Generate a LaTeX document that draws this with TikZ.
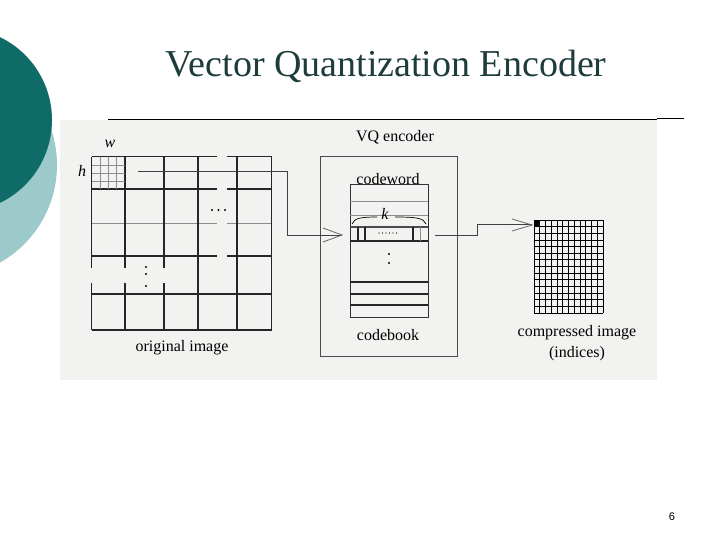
\documentclass[tikz,border=0pt]{standalone}
\usepackage{fontspec}
\setmainfont{Liberation Serif}
\setsansfont{Liberation Sans}
\definecolor{teal1}{HTML}{0E6B68}
\definecolor{teal2}{HTML}{9CCACB}
\definecolor{ttl}{HTML}{1E3C3C}
\definecolor{scan}{HTML}{F2F2F0}
\begin{document}
\begin{tikzpicture}[x=1pt,y=-1pt,
  lbl/.style={font=\fontsize{16}{17}\selectfont,inner sep=0pt},
  gl/.style={line width=1.1pt,black!85},
  thin/.style={line width=0.7pt,black!45},
  tip/.style={line width=0.8pt,black!60}]
\useasboundingbox (0,0) rectangle (720,540);
\fill[white] (0,0) rectangle (720,540);
\begin{scope}
\clip (0,0) rectangle (720,540);
\fill[teal2] (-55,165) circle (112);
\fill[teal1] (-40,120) circle (92);
\end{scope}
\node[font=\fontsize{38}{42}\selectfont,text=ttl,inner sep=0pt] (title) at (386,66) {Vector Quantization Encoder};
\draw[line width=0.7pt] (108,119) -- (657,119);
\draw[line width=1.4pt] (657,118.5) -- (684,118.5);
\fill[scan] (60,120) rectangle (657,380);
% original image grid
\draw[gl] (91.7,156.7) -- (217,156.7) (227,156.7) -- (271.7,156.7);
\draw[gl] (91.7,189) -- (217,189) (227,189) -- (271.7,189);
\draw[thin] (91.7,223) -- (217,223) (227,223) -- (271.7,223);
\draw[gl] (91.7,256) -- (217,256) (227,256) -- (271.7,256);
\draw[gl] (91.7,294) -- (271.7,294);
\draw[gl] (91.7,330) -- (271.7,330);
\draw[gl] (271.7,156.7) -- (271.7,330);
\draw[gl] (237,156.7) -- (237,330);
\draw[gl] (198,156.7) -- (198,330);
\foreach \x in {91.7,125,164}{
  \draw[gl] (\x,156.7) -- (\x,268) (\x,283) -- (\x,330);}
\foreach \x in {100,108.3,116.7}{\draw[thin] (\x,156.7) -- (\x,189);}
\foreach \y in {165,173,181.7}{\draw[thin] (91.7,\y) -- (125,\y);}
\node[lbl,font=\fontsize{16}{17}\selectfont\itshape] (w) at (110,144) {w};
\node[lbl,font=\fontsize{16}{17}\selectfont\itshape] (h) at (82,171) {h};
\foreach \x in {212,218.5,225}{\fill (\x,210) circle (1.2);}
\foreach \y in {267,274,286}{\fill (146,\y) circle (1.2);}
\node[lbl] (orig) at (182,348) {original image};
% VQ encoder
\node[lbl] (vqlbl) at (395,137) {VQ encoder};
\draw[line width=0.8pt,black!70] (320,156) rectangle (457,356);
\node[lbl] (cwl) at (388,179) {codeword};
\node[draw=black!80,line width=1pt,minimum width=78pt,minimum height=132pt,inner sep=0pt] (cb) at (389,251) {};
\draw[thin] (350,201) -- (428,201) (350,215) -- (428,215);
\draw[line width=1.4pt,black!70] (350,227) -- (428,227);
\foreach \y in {241,282,294,305}{\draw[gl] (350,\y) -- (428,\y);}
\draw[gl] (358,227) -- (358,241) (365,227) -- (365,241) (413,227) -- (413,241);
\draw[thin] (420,227) -- (420,241);
\foreach \x in {379,382.5,386,389.5,393,396.5}{\fill (\x,233) circle (0.7);}
\node[lbl,font=\fontsize{16}{17}\selectfont\itshape] (k) at (385,214) {k};
\draw[line width=0.7pt] (352,224) .. controls (354,218) and (362,217) .. (377,217);
\draw[line width=0.7pt] (426,224) .. controls (424,218) and (416,217) .. (395,217);
\foreach \y in {254,263}{\fill (389,\y) circle (1.1);}
\node[lbl] (cbl) at (388,335) {codebook};
% arrow from image block to encoder
\coordinate (a1) at (138,172);
\coordinate (a2) at (342,235);
\draw[line width=1pt,black!75] (a1) -- (287,172) -- (287,235) -- (a2);
\draw[tip] (323,228) -- (a2) -- (323,242);
% compressed image
\foreach \i in {0,...,12}{\draw[line width=0.8pt] (534+\i*5.75,220) -- (534+\i*5.75,313);}
\foreach \j in {0,...,14}{\draw[line width=0.8pt] (534,220+\j*6.64) -- (603,220+\j*6.64);}
\fill (534,220) rectangle (539.75,226.64);
\coordinate (b1) at (435,235);
\coordinate (b2) at (532,225);
\draw[line width=1pt,black!75] (b1) -- (477,235) -- (477,225) -- (b2);
\draw[tip] (512,219) -- (b2) -- (512,231);
\node[lbl] (ci) at (577,333) {compressed image};
\node[lbl] (ind) at (577,354) {(indices)};
\node[font=\sffamily\fontsize{11}{12}\selectfont,inner sep=0pt] (pg) at (672,517) {6};
\end{tikzpicture}
\end{document}
